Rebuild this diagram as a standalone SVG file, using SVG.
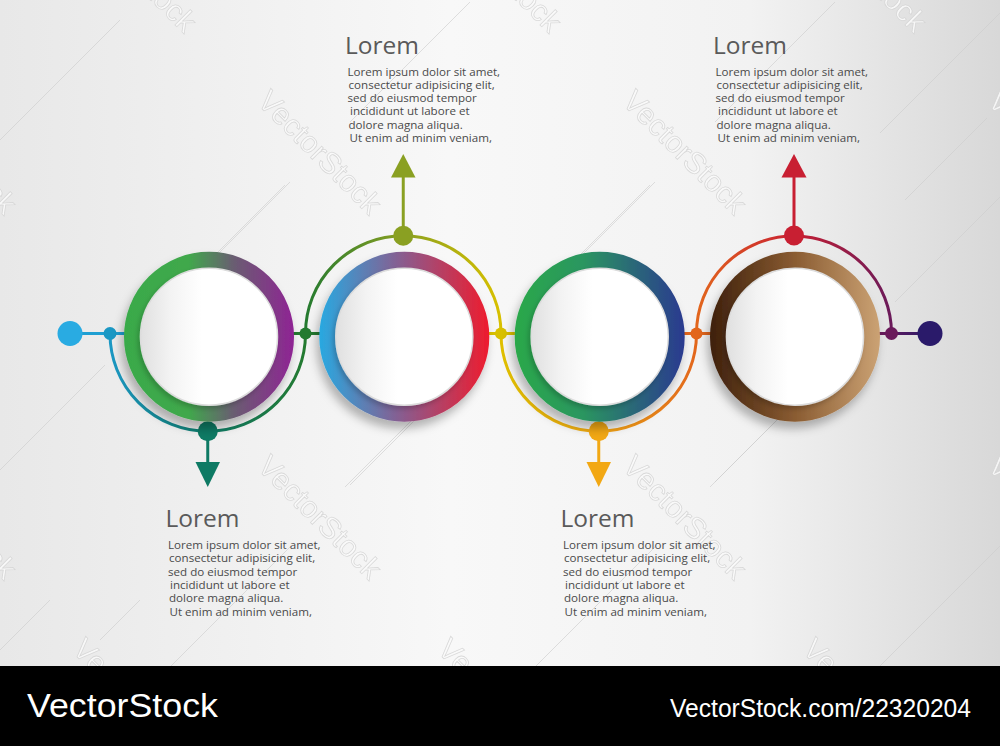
<svg xmlns="http://www.w3.org/2000/svg" width="1000" height="746" viewBox="0 0 1000 746">
<defs>
<linearGradient id="bg" x1="0" y1="0" x2="1" y2="0">
<stop offset="0" stop-color="#e8e8e8"/><stop offset="0.45" stop-color="#f8f8f8"/><stop offset="0.75" stop-color="#f2f2f2"/><stop offset="1" stop-color="#d8d8d8"/>
</linearGradient>
<linearGradient id="disc" x1="0" y1="0" x2="1" y2="0">
<stop offset="0" stop-color="#e0e0e0"/><stop offset="0.22" stop-color="#f3f3f3"/><stop offset="0.45" stop-color="#ffffff"/><stop offset="1" stop-color="#ffffff"/>
</linearGradient>
<linearGradient id="r1" gradientUnits="userSpaceOnUse" x1="124" y1="0" x2="294" y2="0">
<stop offset="0" stop-color="#39aa4a"/><stop offset="0.38" stop-color="#40a84c"/><stop offset="0.65" stop-color="#6a5c72"/><stop offset="1" stop-color="#8f2494"/>
</linearGradient>
<linearGradient id="r2" gradientUnits="userSpaceOnUse" x1="319" y1="0" x2="489" y2="0">
<stop offset="0" stop-color="#28a9e1"/><stop offset="0.5" stop-color="#8c5a8c"/><stop offset="1" stop-color="#ee1c2e"/>
</linearGradient>
<linearGradient id="r3" gradientUnits="userSpaceOnUse" x1="515" y1="0" x2="685" y2="0">
<stop offset="0" stop-color="#2aa84a"/><stop offset="0.4" stop-color="#2a9660"/><stop offset="1" stop-color="#2b3990"/>
</linearGradient>
<linearGradient id="r4" gradientUnits="userSpaceOnUse" x1="710" y1="0" x2="880" y2="0">
<stop offset="0" stop-color="#3e200c"/><stop offset="0.5" stop-color="#8a5c32"/><stop offset="1" stop-color="#cba274"/>
</linearGradient>
<linearGradient id="a1" gradientUnits="userSpaceOnUse" x1="110" y1="0" x2="305.5" y2="0">
<stop offset="0" stop-color="#1b98c4"/><stop offset="0.5" stop-color="#0e7d6a"/><stop offset="1" stop-color="#247a30"/>
</linearGradient>
<linearGradient id="a2" gradientUnits="userSpaceOnUse" x1="305.5" y1="0" x2="501" y2="0">
<stop offset="0" stop-color="#247a30"/><stop offset="0.5" stop-color="#8aa020"/><stop offset="1" stop-color="#d8c000"/>
</linearGradient>
<linearGradient id="a3" gradientUnits="userSpaceOnUse" x1="501" y1="0" x2="696.5" y2="0">
<stop offset="0" stop-color="#e0c000"/><stop offset="0.5" stop-color="#f2a814"/><stop offset="1" stop-color="#e2661c"/>
</linearGradient>
<linearGradient id="a4" gradientUnits="userSpaceOnUse" x1="696.5" y1="0" x2="891.5" y2="0">
<stop offset="0" stop-color="#e2661c"/><stop offset="0.5" stop-color="#c81f32"/><stop offset="1" stop-color="#6a1a5a"/>
</linearGradient>
<linearGradient id="endR" gradientUnits="userSpaceOnUse" x1="880" y1="0" x2="930" y2="0">
<stop offset="0" stop-color="#6a1a5a"/><stop offset="1" stop-color="#2a1a6a"/>
</linearGradient>
<filter id="sh" x="-30%" y="-30%" width="160%" height="170%">
<feDropShadow dx="-3" dy="7" stdDeviation="5" flood-color="#000" flood-opacity="0.28"/>
</filter>
<filter id="sh2" x="-20%" y="-20%" width="140%" height="140%">
<feDropShadow dx="-2" dy="3" stdDeviation="2.5" flood-color="#000" flood-opacity="0.2"/>
</filter>
<style>
.title{font-family:"Open Sans","Noto Sans",sans-serif;font-size:24.5px;fill:#5a5a5a}
.body{font-family:"Open Sans","Noto Sans",sans-serif;font-size:11.6px;fill:#4a4a4a}
.wm{font-family:"Liberation Sans",Arial,sans-serif;font-size:30px;fill:#fbfbfb;stroke:#d4d4d4;stroke-width:0.8;opacity:0.85}
.dl{stroke:#cdcdcd;stroke-width:0.9;opacity:0.7}
.ring{fill:none;stroke-width:16.5}
.inner{fill:url(#disc);stroke:#dcdcdc;stroke-width:1.5}
.arc{fill:none;stroke-width:3}
.bar{font-family:"Liberation Sans",Arial,sans-serif;fill:#ffffff}
</style>
</defs>

<rect x="0" y="0" width="1000" height="746" fill="url(#bg)"/>

<g id="watermark-lines">
<line class="dl" x1="350" y1="122" x2="470" y2="2"/><line class="dl" x1="290" y1="182" x2="170" y2="302"/>
<line class="dl" x1="715" y1="122" x2="835" y2="2"/><line class="dl" x1="655" y1="182" x2="535" y2="302"/>
<line class="dl" x1="165" y1="305" x2="285" y2="185"/><line class="dl" x1="105" y1="365" x2="-15" y2="485"/>
<line class="dl" x1="530" y1="305" x2="650" y2="185"/><line class="dl" x1="470" y1="365" x2="350" y2="485"/>
<line class="dl" x1="895" y1="302" x2="1015" y2="182"/><line class="dl" x1="835" y1="362" x2="715" y2="482"/>
<line class="dl" x1="345" y1="487" x2="465" y2="367"/><line class="dl" x1="290" y1="547" x2="170" y2="667"/>
<line class="dl" x1="710" y1="487" x2="830" y2="367"/><line class="dl" x1="655" y1="547" x2="535" y2="667"/>
<line class="dl" x1="0" y1="650" x2="50" y2="600"/><line class="dl" x1="100" y1="640" x2="140" y2="600"/>
<line class="dl" x1="880" y1="133" x2="1000" y2="13"/><line class="dl" x1="905" y1="200" x2="987" y2="118"/>
<line class="dl" x1="880" y1="666" x2="1000" y2="546"/><line class="dl" x1="0" y1="140" x2="120" y2="20"/>
</g>

<g id="watermarks">
<text class="wm" text-anchor="middle" dy="0.35em" transform="translate(135,-30) rotate(45)">VectorStock</text>
<text class="wm" text-anchor="middle" dy="0.35em" transform="translate(500,-30) rotate(45)">VectorStock</text>
<text class="wm" text-anchor="middle" dy="0.35em" transform="translate(865,-30) rotate(45)">VectorStock</text>
<text class="wm" text-anchor="middle" dy="0.35em" transform="translate(-45,152) rotate(45)">VectorStock</text>
<text class="wm" text-anchor="middle" dy="0.35em" transform="translate(320,152) rotate(45)">VectorStock</text>
<text class="wm" text-anchor="middle" dy="0.35em" transform="translate(685,152) rotate(45)">VectorStock</text>
<text class="wm" text-anchor="middle" dy="0.35em" transform="translate(1050,152) rotate(45)">VectorStock</text>
<text class="wm" text-anchor="middle" dy="0.35em" transform="translate(-45,517) rotate(45)">VectorStock</text>
<text class="wm" text-anchor="middle" dy="0.35em" transform="translate(320,517) rotate(45)">VectorStock</text>
<text class="wm" text-anchor="middle" dy="0.35em" transform="translate(685,517) rotate(45)">VectorStock</text>
<text class="wm" text-anchor="middle" dy="0.35em" transform="translate(1050,517) rotate(45)">VectorStock</text>
<text class="wm" text-anchor="middle" dy="0.35em" transform="translate(135,700) rotate(45)">VectorStock</text>
<text class="wm" text-anchor="middle" dy="0.35em" transform="translate(500,700) rotate(45)">VectorStock</text>
<text class="wm" text-anchor="middle" dy="0.35em" transform="translate(865,700) rotate(45)">VectorStock</text>
</g>

<g id="connectors">
<line x1="70" y1="333.5" x2="130" y2="333.5" stroke="#1f9fd2" stroke-width="3"/>
<line x1="290" y1="333.5" x2="322" y2="333.5" stroke="#247a30" stroke-width="3"/>
<line x1="486" y1="333.5" x2="518" y2="333.5" stroke="#d8c000" stroke-width="3"/>
<line x1="681" y1="333.5" x2="713" y2="333.5" stroke="#e2661c" stroke-width="3"/>
<line x1="876" y1="333.5" x2="930" y2="333.5" stroke="url(#endR)" stroke-width="3"/>
<path class="arc" stroke="url(#a1)" d="M110,333.5 A97.75,97.75 0 0 0 305.5,333.5"/>
<path class="arc" stroke="url(#a2)" d="M305.5,333.5 A97.75,97.75 0 0 1 501,333.5"/>
<path class="arc" stroke="url(#a3)" d="M501,333.5 A97.75,97.75 0 0 0 696.5,333.5"/>
<path class="arc" stroke="url(#a4)" d="M696.5,333.5 A97.5,97.5 0 0 1 891.5,333.5"/>
<line x1="207.75" y1="431" x2="207.75" y2="465" stroke="#0e7a64" stroke-width="3"/>
<polygon points="195.5,462 220,462 207.75,487" fill="#0e7a64"/>
<line x1="403.25" y1="236" x2="403.25" y2="175" stroke="#8aa022" stroke-width="3"/>
<polygon points="391,177.5 415.5,177.5 403.25,154" fill="#8aa022"/>
<line x1="598.75" y1="431" x2="598.75" y2="465" stroke="#f2a814" stroke-width="3"/>
<polygon points="586.5,462 611,462 598.75,487" fill="#f2a814"/>
<line x1="794" y1="236" x2="794" y2="175" stroke="#c81f32" stroke-width="3"/>
<polygon points="781.5,177.5 806.5,177.5 794,154" fill="#c81f32"/>
<circle cx="70" cy="333.5" r="12.5" fill="#29abe2"/>
<circle cx="110" cy="333.5" r="6.5" fill="#1b98c4"/>
<circle cx="305.5" cy="333.5" r="6" fill="#247a30"/>
<circle cx="501" cy="333.5" r="6" fill="#d8c000"/>
<circle cx="696.5" cy="333.5" r="6" fill="#e2661c"/>
<circle cx="891.5" cy="333.5" r="6.5" fill="#6a1a5a"/>
<circle cx="930" cy="333.5" r="12.5" fill="#2a1a6a"/>
<circle cx="207.75" cy="431.25" r="10" fill="#0e7a64"/>
<circle cx="403.25" cy="235.75" r="10" fill="#8aa022"/>
<circle cx="598.75" cy="431.25" r="10" fill="#f2a814"/>
<circle cx="794" cy="235.5" r="10" fill="#c81f32"/>
</g>

<g id="node1">
<circle class="ring" cx="209" cy="336.7" r="76.75" stroke="url(#r1)" filter="url(#sh)"/>
<circle class="inner" cx="209" cy="336.7" r="68.5" filter="url(#sh2)"/>
</g>
<g id="node2">
<circle class="ring" cx="404.3" cy="336.7" r="76.75" stroke="url(#r2)" filter="url(#sh)"/>
<circle class="inner" cx="404.3" cy="336.7" r="68.5" filter="url(#sh2)"/>
</g>
<g id="node3">
<circle class="ring" cx="599.7" cy="336.7" r="76.75" stroke="url(#r3)" filter="url(#sh)"/>
<circle class="inner" cx="599.7" cy="336.7" r="68.5" filter="url(#sh2)"/>
</g>
<g id="node4">
<circle class="ring" cx="795" cy="336.7" r="76.75" stroke="url(#r4)" filter="url(#sh)"/>
<circle class="inner" cx="795" cy="336.7" r="68.5" filter="url(#sh2)"/>
</g>

<g id="text-top-2">
<text class="title" x="345" y="53.5">Lorem</text>
<text class="body" x="347.5" y="75.5">Lorem ipsum dolor sit amet,</text>
<text class="body" x="348.5" y="88.5">consectetur adipisicing elit,</text>
<text class="body" x="347.5" y="102">sed do eiusmod tempor</text>
<text class="body" x="350" y="115.2">incididunt ut labore et</text>
<text class="body" x="348.5" y="128.6">dolore magna aliqua.</text>
<text class="body" x="349.5" y="141.8">Ut enim ad minim veniam,</text>
</g>
<g id="text-top-4">
<text class="title" x="713" y="53.5">Lorem</text>
<text class="body" x="715.5" y="75.5">Lorem ipsum dolor sit amet,</text>
<text class="body" x="716.5" y="88.5">consectetur adipisicing elit,</text>
<text class="body" x="715.5" y="102">sed do eiusmod tempor</text>
<text class="body" x="718" y="115.2">incididunt ut labore et</text>
<text class="body" x="716.5" y="128.6">dolore magna aliqua.</text>
<text class="body" x="717.5" y="141.8">Ut enim ad minim veniam,</text>
</g>
<g id="text-bottom-1">
<text class="title" x="165.5" y="527">Lorem</text>
<text class="body" x="168" y="549">Lorem ipsum dolor sit amet,</text>
<text class="body" x="169" y="562">consectetur adipisicing elit,</text>
<text class="body" x="168" y="575.5">sed do eiusmod tempor</text>
<text class="body" x="170" y="588.8">incididunt ut labore et</text>
<text class="body" x="169" y="602.2">dolore magna aliqua.</text>
<text class="body" x="169.5" y="615.5">Ut enim ad minim veniam,</text>
</g>
<g id="text-bottom-3">
<text class="title" x="560.5" y="527">Lorem</text>
<text class="body" x="563" y="549">Lorem ipsum dolor sit amet,</text>
<text class="body" x="564" y="562">consectetur adipisicing elit,</text>
<text class="body" x="563" y="575.5">sed do eiusmod tempor</text>
<text class="body" x="565" y="588.8">incididunt ut labore et</text>
<text class="body" x="564" y="602.2">dolore magna aliqua.</text>
<text class="body" x="564.5" y="615.5">Ut enim ad minim veniam,</text>
</g>

<g id="footer">
<rect x="0" y="666" width="1000" height="80" fill="#000"/>
<text class="bar" x="27" y="717" font-size="33" textLength="191" lengthAdjust="spacingAndGlyphs">VectorStock</text>
<text class="bar" x="670" y="717" font-size="25" textLength="301" lengthAdjust="spacingAndGlyphs">VectorStock.com/22320204</text>
</g>
</svg>
